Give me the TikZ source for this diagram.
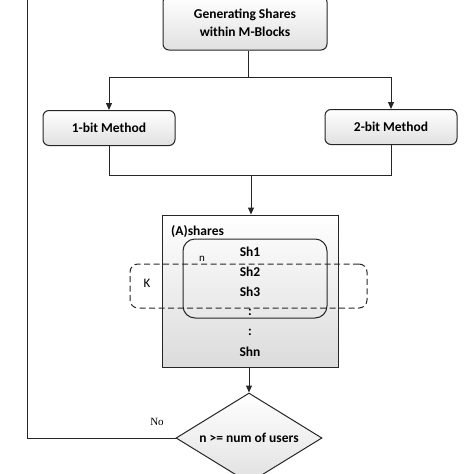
\documentclass[tikz,border=0pt]{standalone}
\usepackage{fontspec}
\setmainfont{Carlito}
\newfontfamily\serifno{Liberation Serif}
\usetikzlibrary{shapes.geometric,arrows.meta}
\begin{document}
\begin{tikzpicture}[x=1pt,y=-1pt,
  line/.style={draw=black!85,line width=1pt},
  arr/.style={line,-{Triangle[width=6pt,length=7pt]}},
  boxstyle/.style={line,rounded corners=6pt,top color=white,bottom color=black!12,
    font=\fontsize{13.5}{15}\selectfont\bfseries,align=center,inner sep=0pt},
  lbl/.style={font=\fontsize{13.5}{15}\selectfont\bfseries,inner sep=0pt}]
\useasboundingbox (0,0) rectangle (474,474);
\clip (0,0) rectangle (474,474);
% top box
\node[boxstyle,minimum width=164pt,minimum height=54pt] (gen) at (245,23) {Generating Shares\\[3pt]within M-Blocks};
% method boxes
\node[boxstyle,minimum width=132pt,minimum height=35pt] (m1) at (109,128) {1-bit Method};
\node[boxstyle,minimum width=132pt,minimum height=35pt] (m2) at (391,127) {2-bit Method};
% shares box
\node[line,top color=white,bottom color=black!14,minimum width=176pt,minimum height=152pt,inner sep=0pt] (A) at (250,291) {};
\node[draw=black!85,line width=1pt,rounded corners=12pt,minimum width=144pt,minimum height=79pt,inner sep=0pt] (inner) at (255,278.5) {};
\node[draw=black!85,line width=1pt,dash pattern=on 6pt off 3.5pt,rounded corners=8pt,minimum width=237pt,minimum height=44pt,inner sep=0pt] (K) at (248.5,286) {};
\node[lbl,anchor=west] (ash) at (171,232) {(A)shares};
\node[lbl] (s1) at (250,252) {Sh1};
\node[lbl] (s2) at (250,272) {Sh2};
\node[lbl] (s3) at (250,292) {Sh3};
\node[lbl] (d1) at (250,312) {:};
\node[lbl] (d2) at (250,332) {:};
\node[lbl] (sn) at (250,352) {Shn};
\node[font=\fontsize{11}{13}\selectfont,inner sep=0pt] (n) at (202,259) {n};
\node[font=\fontsize{13}{15}\selectfont,inner sep=0pt] (k) at (147,283) {K};
% diamond
\node[line,diamond,aspect=1.6,inner sep=0pt,minimum width=146pt,minimum height=90pt,
  top color=white,bottom color=black!12,font=\fontsize{13.5}{15}\selectfont\bfseries] (dec) at (249,438) {n >= num of users};
\node[font=\serifno\fontsize{11}{13}\selectfont,inner sep=0pt] (no) at (157,422) {No};
% connectors
\coordinate (j1) at (248,77);
\coordinate (j2) at (251,175);
\coordinate (top) at (27,-5);
\draw[line] (gen.south -| j1) -- (j1);
\draw[line] (m1.north |- j1) -- (m2.north |- j1);
\draw[arr] (m1.north |- j1) -- (m1.north);
\draw[arr] (m2.north |- j1) -- (m2.north);
\draw[line] (m1.south) -- (m1.south |- j2) -- (m2.south |- j2) -- (m2.south);
\draw[arr] (j2) -- (j2 |- A.north);
\draw[arr] (A.south -| dec.north) -- (dec.north);
\draw[line] (dec.west) -- (dec.west -| top) -- (top);
\end{tikzpicture}
\end{document}
